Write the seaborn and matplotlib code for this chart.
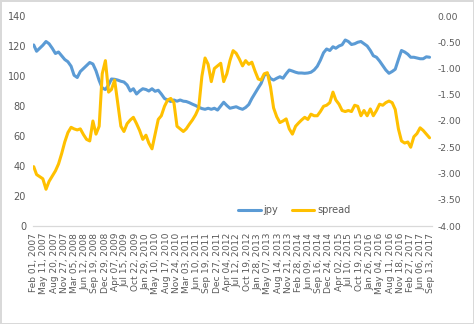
import numpy as np
import pandas as pd
import matplotlib
matplotlib.use("Agg")
import matplotlib.pyplot as plt
import seaborn as sns

# ---------------- data (monthly readings from the picture) ----------------
start_month = "2007-02-01"

jpy = [120.7, 116.5, 118.5, 120.5, 123.0, 121.5, 118.5, 115.0, 116.0, 113.5,
       111.0, 109.5, 106.5, 100.5, 99.0, 103.0, 105.0, 107.0, 109.0, 108.0,
       103.5, 97.0, 92.0, 91.0, 94.0, 98.0, 97.8, 97.3, 96.5, 96.0,
       94.0, 90.0, 91.5, 88.0, 90.0, 91.5, 91.0, 90.0, 91.5, 89.8,
       90.5, 88.0, 85.0, 84.0, 83.0, 84.0, 83.2, 84.0, 83.2, 83.0,
       82.2, 81.2, 80.3, 79.2, 78.3, 77.8, 78.5, 77.8, 78.5, 77.3,
       80.0, 82.5, 80.3, 78.5, 79.0, 79.5, 78.5, 77.8, 79.0, 81.0,
       85.0, 88.5, 92.0, 95.0, 100.5, 101.5, 98.3, 97.3, 98.5, 99.5,
       98.5, 101.5, 104.0, 103.3, 102.5, 102.0, 102.0, 101.8, 102.0, 102.5,
       104.0, 106.5, 110.5, 115.5, 118.0, 117.0, 119.5, 118.5, 120.0, 120.8,
       124.0, 123.0, 121.0, 121.5, 122.5, 123.0, 121.5, 120.0, 117.0, 113.5,
       112.5, 110.0, 107.0, 104.0, 101.8, 103.0, 104.5, 111.0, 117.0, 116.0,
       114.5, 112.5, 112.5, 112.0, 111.5, 111.5, 112.8, 112.5]

spread = [-2.87, -3.02, -3.06, -3.10, -3.30, -3.15, -3.05, -2.95, -2.82, -2.62,
          -2.40, -2.22, -2.12, -2.15, -2.17, -2.15, -2.26, -2.35, -2.38, -2.00,
          -2.25, -2.10, -1.10, -0.85, -1.45, -1.40, -1.22, -1.65, -2.10, -2.20,
          -2.05, -1.98, -1.93, -2.05, -2.18, -2.35, -2.27, -2.42, -2.53, -2.25,
          -1.97, -1.90, -1.72, -1.60, -1.57, -1.65, -2.10, -2.15, -2.20, -2.15,
          -2.06, -1.98, -1.88, -1.75, -1.15, -0.80, -0.92, -1.25, -1.00, -0.95,
          -0.90, -1.25, -1.10, -0.85, -0.66, -0.71, -0.82, -0.95, -0.85, -0.92,
          -0.88, -1.05, -1.20, -1.22, -1.10, -1.08, -1.35, -1.75, -1.92, -2.03,
          -2.00, -1.96, -2.15, -2.25, -2.10, -2.04, -1.98, -1.93, -1.97, -1.87,
          -1.90, -1.90, -1.82, -1.72, -1.70, -1.65, -1.45, -1.60, -1.68, -1.80,
          -1.82, -1.80, -1.82, -1.70, -1.72, -1.90, -1.80, -1.90, -1.77, -1.90,
          -1.80, -1.68, -1.70, -1.65, -1.62, -1.65, -1.78, -2.15, -2.38, -2.42,
          -2.40, -2.50, -2.30, -2.24, -2.13, -2.18, -2.25, -2.32]

tick_labels = ["Feb 01, 2007", "May 11, 2007", "Aug 20, 2007", "Nov 27, 2007",
               "Mar 05, 2008", "Jun 12, 2008", "Sep 19, 2008", "Dec 29, 2008",
               "Apr 07, 2009", "Jul 15, 2009", "Oct 22, 2009", "Jan 29, 2010",
               "May 10, 2010", "Aug 17, 2010", "Nov 24, 2010", "Mar 03, 2011",
               "Jun 10, 2011", "Sep 19, 2011", "Dec 27, 2011", "Apr 04, 2012",
               "Jul 12, 2012", "Oct 19, 2012", "Jan 28, 2013", "May 07, 2013",
               "Aug 14, 2013", "Nov 21, 2013", "Feb 28, 2014", "Jun 09, 2014",
               "Sep 16, 2014", "Dec 24, 2014", "Apr 02, 2015", "Jul 10, 2015",
               "Oct 19, 2015", "Jan 26, 2016", "May 04, 2016", "Aug 11, 2016",
               "Nov 18, 2016", "Feb 27, 2017", "Jun 06, 2017", "Sep 13, 2017"]

left_ticks = [0, 20, 40, 60, 80, 100, 120, 140]
right_ticks = [-4.0, -3.5, -3.0, -2.5, -2.0, -1.5, -1.0, -0.5, 0.0]

# ---------------- build ----------------
dates = pd.date_range(start_month, periods=len(jpy), freq="MS")
df = pd.DataFrame({"date": dates, "jpy": jpy, "spread": spread})
tick_dates = pd.to_datetime(tick_labels, format="%b %d, %Y")

sns.set_style("white")
plt.rcParams["font.family"] = ["DejaVu Sans"]

BLUE = "#5B9BD5"
GOLD = "#FFC000"
GREY = "#595959"

fig = plt.figure(figsize=(4.74, 3.24), dpi=100)
fig.patch.set_facecolor("white")
fig.patch.set_edgecolor("#D9D9D9")
fig.patch.set_linewidth(1.0)
ax = fig.add_axes([33 / 474, 1 - 226 / 324, 399 / 474, 210 / 324])
ax2 = ax.twinx()

sns.lineplot(data=df, x="date", y="jpy", ax=ax, color=BLUE, linewidth=2.2,
             label="jpy", legend=False)
sns.lineplot(data=df, x="date", y="spread", ax=ax2, color=GOLD, linewidth=2.2,
             label="spread", legend=False)

ax.set_ylim(0, 140)
ax.set_yticks(left_ticks)
ax2.set_ylim(-4, 0)
ax2.set_yticks(right_ticks)
ax2.set_yticklabels([f"{v:.2f}" for v in right_ticks])

ax.set_xlim(pd.Timestamp("2007-01-25"), pd.Timestamp("2017-09-25"))
ax.set_xticks(tick_dates)
ax.set_xticklabels(tick_labels, rotation=90, fontsize=6.5, color=GREY)

for a in (ax, ax2):
    a.set_xlabel("")
    a.set_ylabel("")
    for s in a.spines.values():
        s.set_visible(False)
    a.grid(False)
ax.spines["bottom"].set_visible(True)
ax.spines["bottom"].set_color("#D9D9D9")
ax.spines["bottom"].set_linewidth(0.9)

ax.tick_params(axis="x", length=0, pad=5)
ax.tick_params(axis="y", length=0, labelsize=7.0, labelcolor=GREY, pad=5)
ax2.tick_params(axis="y", length=0, labelsize=6.6, labelcolor=GREY, pad=4)

h1, l1 = ax.get_legend_handles_labels()
h2, l2 = ax2.get_legend_handles_labels()
leg = ax.legend(h1 + h2, l1 + l2, loc="center", bbox_to_anchor=(0.655, 0.075),
                ncol=2, frameon=False, fontsize=7, handlelength=2.3,
                columnspacing=1.4, handletextpad=0.3)
for t in leg.get_texts():
    t.set_color(GREY)

fig.savefig("out.png", dpi=100)
